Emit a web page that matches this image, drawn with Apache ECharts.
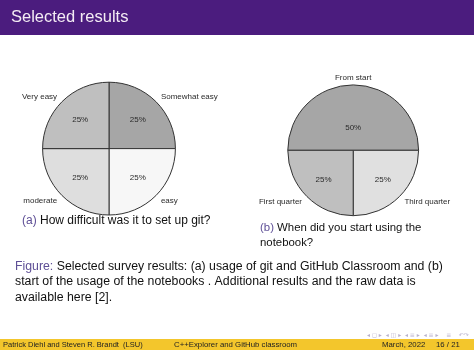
<!DOCTYPE html>
<html>
<head>
<meta charset="utf-8">
<script src="https://cdn.jsdelivr.net/npm/echarts@6/dist/echarts.min.js"></script>
<style>
html,body{margin:0;padding:0;background:#fff;}
#c{width:474px;height:355px;}
</style>
</head>
<body>
<div id="c"></div>
<script>
// Chart (a): How difficult was it to set up git?
var gitCategories = ['Somewhat easy', 'easy', 'moderate', 'Very easy'];
var gitValues = [25, 25, 25, 25];
var gitColors = ['#a6a6a6', '#f7f7f7', '#dedede', '#bfbfbf'];

// Chart (b): When did you start using the notebook?
var nbCategories = ['From start', 'Third quarter', 'First quarter'];
var nbValues = [50, 25, 25];
var nbColors = ['#a6a6a6', '#e0e0e0', '#bfbfbf'];

var FONT = 'Liberation Sans';

function pieData(cats, vals, cols) {
  return cats.map(function (c, i) {
    return { name: c, value: vals[i], itemStyle: { color: cols[i] } };
  });
}
function ghostData(cats, vals) {
  return cats.map(function (c, i) { return { name: c, value: vals[i] }; });
}

function mainPie(center, r, startAngle, data, layoutFn) {
  return {
    type: 'pie', center: center, radius: r, startAngle: startAngle, clockwise: true,
    avoidLabelOverlap: false, silent: true, animation: false,
    data: data,
    itemStyle: { borderColor: '#333', borderWidth: 1 },
    label: { show: true, position: 'outside', formatter: '{b}', fontSize: 8, color: '#2a2a2a',
             fontFamily: FONT, distanceToLabelLine: 0 },
    labelLine: { show: false, length: 7, length2: 0 },
    labelLayout: layoutFn,
    emphasis: { disabled: true }
  };
}
function ghostPie(center, r, startAngle, data, layoutFn) {
  return {
    type: 'pie', center: center, radius: r, startAngle: startAngle, clockwise: true,
    avoidLabelOverlap: false, silent: true, animation: false, z: 3,
    data: data,
    itemStyle: { color: 'rgba(0,0,0,0)', borderWidth: 0 },
    label: { show: true, position: 'inside', formatter: '{d}%', fontSize: 8, color: '#2a2a2a', fontFamily: FONT },
    labelLine: { show: false },
    labelLayout: layoutFn,
    emphasis: { disabled: true }
  };
}

var chart = echarts.init(document.getElementById('c'), null, { renderer: 'canvas' });
chart.setOption({
  backgroundColor: '#fff',
  animation: false,
  graphic: [
    { type: 'rect', shape: { x: 0, y: 0, width: 474, height: 35 }, style: { fill: '#4b1c7e' }, silent: true },
    { type: 'rect', shape: { x: 0, y: 339, width: 474, height: 11 }, style: { fill: '#f3c62c' }, silent: true },
    { type: 'text', x: 367, y: 335, style: { text: '◂ ◻ ▸  ◂ ◫ ▸  ◂ ≡ ▸  ◂ ≡ ▸    ≡    ↶↷', fill: '#b9b2cc', fontSize: 6, fontFamily: 'DejaVu Sans', verticalAlign: 'middle' }, silent: true },
    { type: 'text', x: 3, y: 344.5, style: { text: 'Patrick Diehl and Steven R. Brandt  (LSU)', fill: '#222', fontSize: 7.5, fontFamily: FONT, verticalAlign: 'middle' }, silent: true },
    { type: 'text', x: 174, y: 344.5, style: { text: 'C++Explorer and GitHub classroom', fill: '#222', fontSize: 7.8, fontFamily: FONT, verticalAlign: 'middle' }, silent: true },
    { type: 'text', x: 382, y: 344.5, style: { text: 'March, 2022', fill: '#222', fontSize: 7.8, fontFamily: FONT, verticalAlign: 'middle' }, silent: true },
    { type: 'text', x: 436, y: 344.5, style: { text: '16 / 21', fill: '#222', fontSize: 7.8, fontFamily: FONT, verticalAlign: 'middle' }, silent: true }
  ],
  title: [
    { text: 'Selected results', left: 11, top: 9, padding: 0,
      textStyle: { color: '#f4ecf4', fontSize: 16.5, fontWeight: 'normal', fontFamily: FONT } },
    { text: '{p|(a)} How difficult was it to set up git?', left: 22, top: 213, padding: 0,
      textStyle: { color: '#111', fontSize: 12, fontWeight: 'normal', fontFamily: FONT, lineHeight: 15,
                   rich: { p: { color: '#5e4f96', fontSize: 12, fontFamily: FONT, lineHeight: 15 } } } },
    { text: '{p|(b)} When did you start using the\nnotebook?', left: 260, top: 220.5, padding: 0,
      textStyle: { color: '#111', fontSize: 11.4, fontWeight: 'normal', fontFamily: FONT, lineHeight: 15,
                   rich: { p: { color: '#5e4f96', fontSize: 11.4, fontFamily: FONT, lineHeight: 15 } } } },
    { text: '{p|Figure:} Selected survey results: (a) usage of git and GitHub Classroom and (b)\nstart of the usage of the notebooks . Additional results and the raw data is\navailable here [2].',
      left: 15, top: 259, padding: 0,
      textStyle: { color: '#111', fontSize: 12.3, fontWeight: 'normal', fontFamily: FONT, lineHeight: 15.3,
                   rich: { p: { color: '#5e4f96', fontSize: 12.3, fontFamily: FONT, lineHeight: 15.3 } } } }
  ],
  series: [
    mainPie([109, 148.6], 66.4, 90, pieData(gitCategories, gitValues, gitColors), null),
    ghostPie([109, 148.6], 75.5, 90, ghostData(gitCategories, gitValues), null),
    mainPie([353.2, 150.3], 65.4, 180, pieData(nbCategories, nbValues, nbColors),
      function (p) { return p.dataIndex === 0 ? { align: 'center' } : {}; }),
    ghostPie([353.2, 150.3], 77.8, 180, ghostData(nbCategories, nbValues),
      function (p) { return p.dataIndex === 0 ? { dy: 19 } : {}; })
  ]
});
</script>
</body>
</html>
